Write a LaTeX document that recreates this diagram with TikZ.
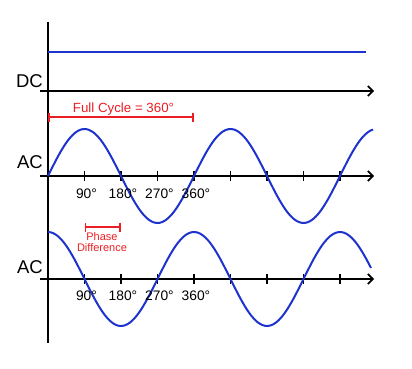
\documentclass[tikz,border=0pt]{standalone}
\usepackage{xcolor}
\usepackage{fontspec}
\setmainfont{Liberation Sans}
\usepackage{tikz}
\usetikzlibrary{arrows.meta}

\definecolor{waveblue}{RGB}{30,50,205}
\definecolor{markred}{RGB}{235,30,35}

\tikzset{
	axis/.style={line width=1.7pt, black},
	axisarrow/.style={axis, -{Straight Barb[length=5pt,width=10pt,line width=1.7pt]}},
	wave/.style={line width=2pt, waveblue},
	bracket/.style={line width=1.6pt, markred, {Bar[width=9pt]}-{Bar[width=9pt]}},
	deg/.style={font=\fontsize{13.8}{15}\selectfont, anchor=base, inner sep=0pt},
	sig/.style={font=\fontsize{18.5}{20}\selectfont, anchor=base east, inner sep=0pt},
	note/.style={markred, anchor=base, inner sep=0pt},
}

\begin{document}
\begin{tikzpicture}[x=1pt, y=-1pt]
		\useasboundingbox (0,0) rectangle (412,369);
		% vertical axis
		\coordinate (vtop) at (48,22);
		\coordinate (vbot) at (48,343);
		\draw[axis] (vtop) -- (vbot);
		% DC
		\coordinate (dcstart) at (40,91);
		\coordinate (dcend) at (374,91);
		\coordinate (dcleft) at (48,52);
		\coordinate (dcright) at (366,52);
		\draw[axisarrow] (dcstart) -- (dcend);
		\draw[wave] (dcleft) -- (dcright);
		\node[sig] (dclabel) at (43,87.5) {DC};
		% full cycle
		\coordinate (fullleft) at (48,117);
		\coordinate (fullright) at (194,117);
		\draw[bracket] (fullleft) -- (fullright);
		\node[note, font=\fontsize{13.3}{15}\selectfont] (fulltext) at (123.5,112) {Full Cycle = 360°};
		% first AC
		\coordinate (aconestart) at (40,176);
		\coordinate (aconeend) at (374,176);
		\draw[axisarrow] (aconestart) -- (aconeend);
		\foreach \i in {1,...,8}
			\draw[axis] ({48+36.5*\i},171) -- ({48+36.5*\i},181);
		\draw[wave] plot[domain=48:373, samples=120, smooth] (\x, {176-47*sin((\x-48)/146*360)});
		\node[sig] (aconelabel) at (43,168.5) {AC};
		\foreach \i/\t in {1/90,2/180,3/270,4/360}
			\node[deg] (aconedeg\i) at ({50+36.5*\i},198.5) {\t°};
		% phase difference
		\coordinate (phaseleft) at (84.5,227);
		\coordinate (phaseright) at (121,227);
		\draw[bracket] (phaseleft) -- (phaseright);
		\node[note, font=\fontsize{11}{12}\selectfont] (phasetop) at (102,240) {Phase};
		\node[note, font=\fontsize{11}{12}\selectfont] (phasebot) at (102,251.5) {Difference};
		% second AC
		\coordinate (actwostart) at (40,279);
		\coordinate (actwoend) at (374,279);
		\draw[axisarrow] (actwostart) -- (actwoend);
		\foreach \i in {1,...,8}
			\draw[axis] ({48+36.5*\i},274) -- ({48+36.5*\i},284);
		\draw[wave] plot[domain=48:371, samples=120, smooth] (\x, {279-47*cos((\x-48)/146*360)});
		\node[sig] (actwolabel) at (43,273) {AC};
		\foreach \i/\t in {1/90,2/180,3/270,4/360}
			\node[deg] (actwodeg\i) at ({50+36.5*\i},300.5) {\t°};
	\end{tikzpicture}
\end{document}
